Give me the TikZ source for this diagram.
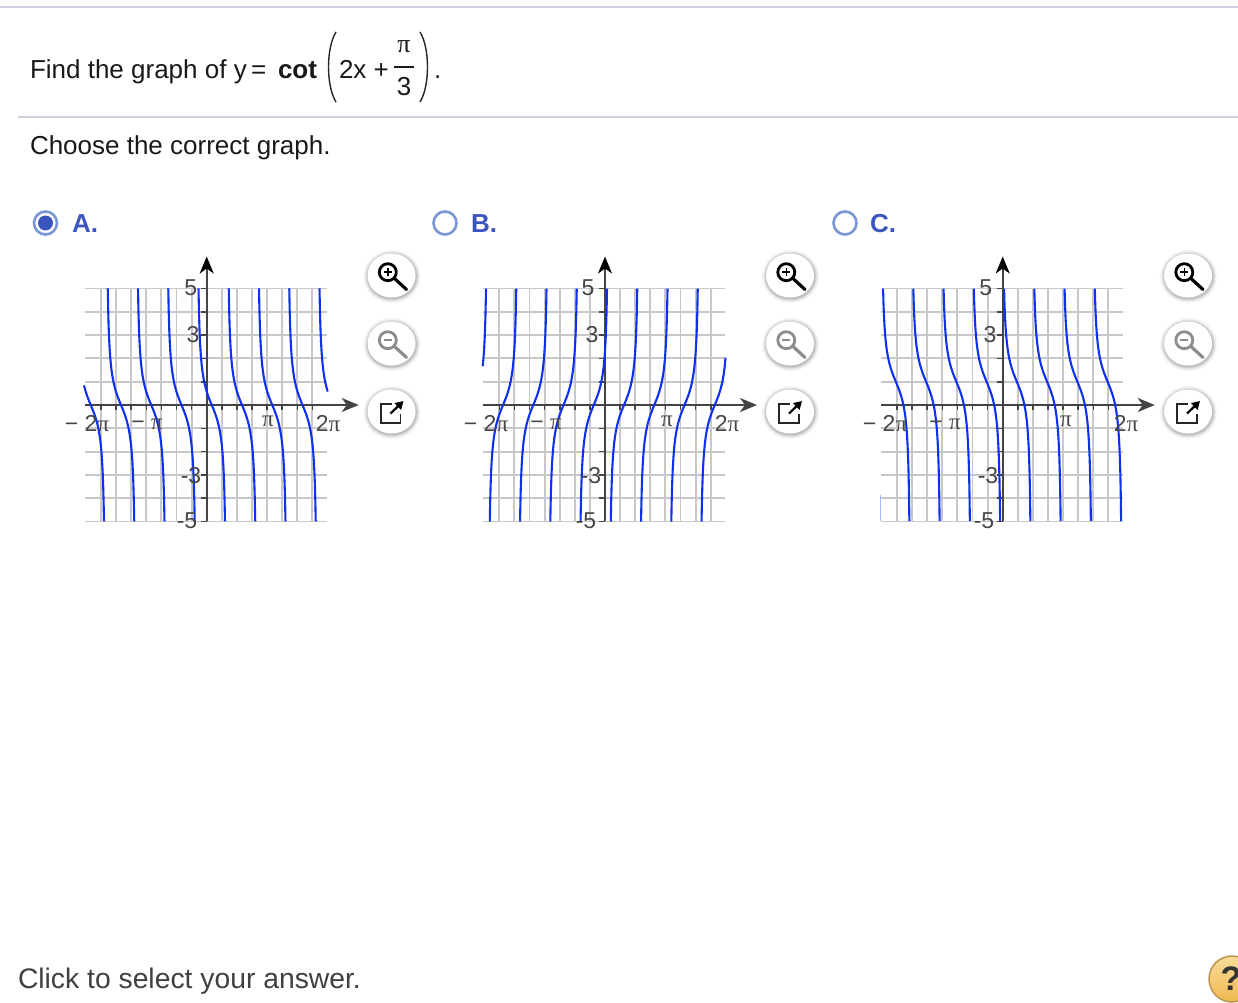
\documentclass[tikz,border=0pt]{standalone}
\usepackage{fontspec}
\setmainfont{Liberation Sans}
\newfontfamily\pifont{Liberation Serif}
\usetikzlibrary{arrows.meta,calc}
\definecolor{rulecol}{HTML}{CFCFE0}
\definecolor{gridcol}{HTML}{C8C8C8}
\definecolor{axiscol}{HTML}{444444}
\definecolor{curvecol}{HTML}{1030F0}
\definecolor{choicecol}{HTML}{3B55BE}
\definecolor{ringcol}{HTML}{7A96D8}
\definecolor{helptop}{HTML}{F8DC9A}
\definecolor{helpbot}{HTML}{F0B850}
\definecolor{helpedge}{HTML}{B8964E}
\newcommand{\PI}{{\pifont π}}
\tikzset{
 rulerline/.style={draw=rulecol,line width=1.8pt},
 body/.style={inner sep=0pt,outer sep=0pt,anchor=base west,font=\fontsize{26}{26}\selectfont,text=black!90},
 choice/.style={inner sep=0pt,anchor=base west,font=\fontsize{26}{26}\selectfont\bfseries,text=choicecol},
 gridln/.style={draw=gridcol,line width=1.9pt},
 axisln/.style={draw=axiscol,line width=2pt},
 curve/.style={draw=curvecol,line width=2.1pt,line join=round},
 lbl/.style={inner sep=0pt,font=\fontsize{23}{23}\selectfont,text=black!72},
 btnicon/.style={line width=2.8pt,line cap=round},
 radio/.style={circle,draw=ringcol,line width=2.6pt,fill=white,minimum size=23pt,inner sep=0pt},
}
% args: axis x, sign, offset, first asymptote, u-top, u-bottom, left, right
\newcommand{\branches}[8]{%
 \foreach \k in {-5,...,5}{%
  \pgfmathsetmacro\aa{#4+30.25*\k}%
  \pgfmathsetmacro\ua{max(#5,#7-\aa)}%
  \pgfmathsetmacro\ub{min(#6,#8-\aa)}%
  \ifdim\ua pt<\ub pt
   \draw[curve] plot[domain=\ua:\ub,samples=70,smooth] ({#1+\aa+\x},{405-23.3*(#3+#2*cot(5.9497*\x))});
  \fi
 }}
\newcommand{\graphbase}[4]{% axis x, left edge, right edge, tag
 \foreach \v in {-7,...,7}{\draw[gridln] ({#1+15.1*\v},288) -- ({#1+15.1*\v},521);}
 \foreach \v in {-5,...,5}{\draw[gridln] (#2,{405-23.3*\v}) -- (#3,{405-23.3*\v});}
 \foreach \v in {-7,...,7}{\draw[axisln,line width=1.6pt] ({#1+15.1*\v},405) -- ({#1+15.1*\v},410);}
 \foreach \v in {-5,...,5}{\draw[axisln,line width=1.6pt] (#1-6,{405-23.3*\v}) -- (#1,{405-23.3*\v});}
 \coordinate (xs#4) at (#2,405);
 \coordinate (xe#4) at (#1+152,405);
 \coordinate (ys#4) at (#1,521);
 \coordinate (ye#4) at (#1,256.5);
 \draw[axisln,-{Stealth[length=17pt,width=14pt,inset=5pt]}] (xs#4) -- (xe#4);
 \draw[axisln,-{Stealth[length=17pt,width=14pt,inset=5pt,black]}] (ys#4) -- (ye#4);
}
\newcommand{\graphlabels}[8]{% tag, x of -2pi, -pi, pi, 2pi, 5, 3, -3
 \node[lbl] (m2pi#1) at (#2,424) {− 2\PI};
 \node[lbl] (mpi#1) at (#3,424) {− \PI};
 \node[lbl] (pi#1) at (#4,421) {\PI};
 \node[lbl] (p2pi#1) at (#5,424) {2\PI};
 \node[lbl] (yfive#1) at (#6,288) {5};
 \node[lbl] (ythree#1) at (#7,335) {3};
 \node[lbl] (ymthree#1) at (#8,476) {-3};
}
\begin{document}
\begin{tikzpicture}[x=1pt,y=-1pt]
\useasboundingbox (0,0) rectangle (1238,1002);
\fill[white] (0,0) rectangle (1238,1002);
\coordinate (r1a) at (0,7); \coordinate (r1b) at (1238,7);
\coordinate (r2a) at (18,117); \coordinate (r2b) at (1238,117);
\draw[rulerline] (r1a) -- (r1b);
\draw[rulerline] (r2a) -- (r2b);
% question
\node[body] (find) at (30,78) {Find the graph of y};
\node[body] (equals) at (251,78) {=};
\node[body,font=\fontsize{26}{26}\selectfont\bfseries] (cot) at (278,78) {cot};
\node[body] (twox) at (339,78) {2x +};
\node[body,anchor=base] (fpi) at (404,52) {\PI};
\node[body,anchor=base] (fthree) at (404,95) {3};
\coordinate (fa) at (394,67); \coordinate (fb) at (414,67);
\draw[black!90,line width=1.3pt] (fa) -- (fb);
\draw[black!85,line width=1.4pt] (336,32) .. controls (326,48) and (326,86) .. (336,102);
\draw[black!85,line width=1.4pt] (420,32) .. controls (430,48) and (430,86) .. (420,102);
\node[body] (dot) at (434,78) {.};
\node[body] (choose) at (30,154) {Choose the correct graph.};
% radios
\node[radio] (ra) at (45.5,223) {};
\fill[choicecol] (ra.center) circle (7.5);
\node[radio] (rb) at (445,223) {};
\node[radio] (rc) at (845,223) {};
\node[choice] (la) at (72,232) {A.};
\node[choice] (lb) at (471,232) {B.};
\node[choice] (lc) at (870,232) {C.};
% graphs
\graphbase{206.7}{85}{327}{A}
\branches{206.7}{1}{0}{-10.08}{1.9}{28.35}{-122.7}{121}
\graphlabels{A}{87}{147}{268}{328}{190.7}{193}{191}
\node[lbl] (ymfiveA) at (187,521) {-5};
\graphbase{605}{483.3}{725}{B}
\branches{605}{-1}{0}{3.9}{1.9}{28.35}{-122.3}{120.5}
\graphlabels{B}{486}{546}{667}{727}{588}{592}{591}
\node[lbl] (ymfiveB) at (586,521) {-5};
\graphbase{1002.7}{880.7}{1122.7}{C}
\draw[draw=curvecol!35,line width=1.5pt] (880.7,495) -- (880.7,521);
\branches{1002.7}{1}{1}{-1}{2.36}{28.66}{-122.7}{120}
\graphlabels{C}{885}{945}{1066}{1126}{985.7}{990}{988}
\node[lbl] (ymfiveC) at (984,521) {-5};
% buttons
\foreach \bx/\t in {391.5/A,790/B,1188/C}{
 \foreach \yy in {275.5,343.5,411.5}{
  \foreach \r/\o in {29/0.02,28/0.03,27/0.05,26/0.07,25/0.09}{
   \fill[black,opacity=\o] (\bx+0.5,\yy+1) ellipse ({\r} and {\r-2});
  }
  \fill[white] (\bx,\yy) ellipse (24 and 22);
 }
 % zoom in
 \draw[black,btnicon] (\bx-3.7,275.5-3.3) circle (8.5);
 \draw[black,btnicon,line width=3.2pt] (\bx+3,275.5+3) -- (\bx+15,275.5+14);
 \draw[black,line width=1.5pt] (\bx-7.7,272.2) -- (\bx+0.3,272.2) (\bx-3.7,268.2) -- (\bx-3.7,276.2);
 % zoom out
 \draw[black!45,btnicon] (\bx-3.7,343.5-3.3) circle (8.5);
 \draw[black!45,btnicon,line width=3.2pt] (\bx+3,343.5+3) -- (\bx+15,343.5+14);
 \draw[black!45,line width=1.5pt] (\bx-7.7,340.2) -- (\bx+0.3,340.2);
 % open in new window
 \draw[black!85,line width=1.8pt] (\bx+0,404.2) -- (\bx-10.7,404.2) -- (\bx-10.7,423.2) -- (\bx+9,423.2) -- (\bx+9,413.5);
 \draw[black,line width=2.2pt,-{Triangle[length=8pt,width=9pt]}] (\bx-1,413.5) -- (\bx+12,401);
}
% footer
\node[body,text=black!75,font=\fontsize{28.3}{28.3}\selectfont] (click) at (18,988) {Click to select your answer.};
\begin{scope}
 \clip (1150,940) rectangle (1238,1002);
 \shade[top color=helptop,bottom color=helpbot,draw=helpedge,line width=1.5pt] (1232,979) circle (23);
 \node[inner sep=0pt,font=\fontsize{34}{34}\selectfont\bfseries,text=black!80] (help) at (1231,979) {?};
\end{scope}
\end{tikzpicture}
\end{document}
